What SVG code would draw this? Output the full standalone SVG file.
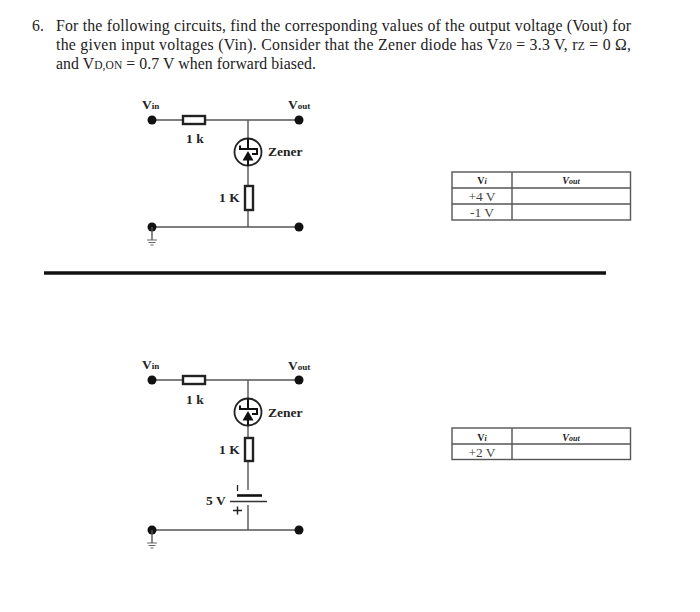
<svg xmlns="http://www.w3.org/2000/svg" width="700" height="612" viewBox="0 0 700 612">
<style>
.t{font-family:"Liberation Serif",serif;font-size:15.8px;fill:#222}
.s{font-size:11.5px}
.l{font-family:"Liberation Serif",serif;font-weight:bold;fill:#222;font-size:13.5px}
.ls{font-size:9px}
.w{stroke:#555;stroke-width:1.4;fill:none}
.r{stroke:#222;stroke-width:2.4;fill:#fff}
.z{stroke:#111;stroke-width:2;fill:none}
.tb{stroke:#555;stroke-width:1.4;fill:none}
.h{font-family:"Liberation Serif",serif;font-weight:bold;font-size:10px;fill:#222;text-anchor:middle}
.v{font-family:"Liberation Serif",serif;font-size:13.5px;fill:#444;text-anchor:middle}
</style>
<defs>
<g id="zener">
<circle r="13.500" cx="0" cy="0" fill="#fff" stroke="#222" stroke-width="1.800"/>
<path class="z" d="M-8-6.500V-3H9V2H4M0-13.500V-3M0 2V13.500"/>
<path d="M-5.500 8.500H5.500L0-1Z" fill="#111"/>
</g>
<g id="ground"><path class="w" d="M0 0V13"/><path d="M-5 13H5M-3.500 15.500H3.500M-1.500 18H1.500" stroke="#666" stroke-width="1.100" fill="none"/></g>
</defs>
<g id="question">
<text class="t" x="32" y="31">6.</text>
<text class="t" x="56" y="31" textLength="575" lengthAdjust="spacing">For the following circuits, find the corresponding values of the output voltage (Vout) for</text>
<text class="t" x="56" y="50" textLength="575" lengthAdjust="spacing">the given input voltages (Vin). Consider that the Zener diode has V<tspan class="s">Z0</tspan> = 3.3 V, r<tspan class="s">Z</tspan> = 0 Ω,</text>
<text class="t" x="56" y="69" textLength="260" lengthAdjust="spacing">and V<tspan class="s">D,ON</tspan> = 0.7 V when forward biased.</text>
</g>
<g id="connectors">
<path class="w" d="M152 120H182M206 120H299M248 120V138M248 166V186M248 210V227M152 227H299"/>
<path class="w" d="M152 380H182M206 380H299M248 380V398M248 426V438M248 461V490M248 505V530M152 530H299"/>
<path d="M44 273H606" stroke="#111" stroke-width="3.500" fill="none"/>
</g>
<g id="circuit1-terminals">
<circle cx="152" cy="120" r="4.500" fill="#111"/><circle cx="299" cy="120" r="4.500" fill="#111"/>
<circle cx="152" cy="227" r="4.500" fill="#111"/><circle cx="299" cy="227" r="4.500" fill="#111"/>
<text class="l" x="142" y="109">V<tspan class="ls">in</tspan></text>
<text class="l" x="288" y="109">V<tspan class="ls">out</tspan></text>
<use href="#ground" x="152" y="227"/>
</g>
<g id="circuit1-r1"><rect class="r" x="183" y="116" width="22" height="8"/><text class="l" x="186" y="143">1 k</text></g>
<g id="circuit1-zener"><use href="#zener" x="248" y="152"/><text class="l" x="268" y="156">Zener</text></g>
<g id="circuit1-r2"><rect class="r" x="245" y="186" width="8" height="24"/><text class="l" x="219" y="202">1 K</text></g>
<g id="circuit2-terminals">
<circle cx="152" cy="380" r="4.500" fill="#111"/><circle cx="299" cy="380" r="4.500" fill="#111"/>
<circle cx="152" cy="530" r="4.500" fill="#111"/><circle cx="299" cy="530" r="4.500" fill="#111"/>
<text class="l" x="142" y="369">V<tspan class="ls">in</tspan></text>
<text class="l" x="288" y="370">V<tspan class="ls">out</tspan></text>
<use href="#ground" x="152" y="530"/>
</g>
<g id="circuit2-r1"><rect class="r" x="183" y="376" width="22" height="8"/><text class="l" x="186" y="404">1 k</text></g>
<g id="circuit2-zener"><use href="#zener" x="248" y="412"/><text class="l" x="268" y="417">Zener</text></g>
<g id="circuit2-r2"><rect class="r" x="245" y="438" width="8" height="23"/><text class="l" x="219" y="454">1 K</text></g>
<g id="circuit2-battery">
<path d="M237 495.500H262" stroke="#111" stroke-width="2.600" fill="none"/>
<path d="M230 501.500H267" stroke="#333" stroke-width="1.400" fill="none"/>
<path d="M237.500 485V491" stroke="#222" stroke-width="1.300" fill="none"/>
<path d="M233 510.500H242M237.500 506.500V514.500" stroke="#222" stroke-width="1.500" fill="none"/>
<text class="l" x="206" y="505">5 V</text>
</g>
<g id="table1">
<rect class="tb" x="452" y="172" width="178.500" height="48"/>
<path class="tb" d="M512 172V220M452 188H630.500M452 204H630.500"/>
<text class="h" x="482" y="184">V<tspan font-style="italic" font-size="8">i</tspan></text>
<text class="h" x="571" y="184" font-style="italic">V<tspan font-size="8">out</tspan></text>
<text class="v" x="482" y="201">+4 V</text>
<text class="v" x="482" y="217">-1 V</text>
</g>
<g id="table2">
<rect class="tb" x="452" y="428" width="178.500" height="31.500"/>
<path class="tb" d="M512 428V459.500M452 444H630.500"/>
<text class="h" x="482" y="441">V<tspan font-style="italic" font-size="8">i</tspan></text>
<text class="h" x="571" y="441" font-style="italic">V<tspan font-size="8">out</tspan></text>
<text class="v" x="482" y="457">+2 V</text>
</g>
</svg>
